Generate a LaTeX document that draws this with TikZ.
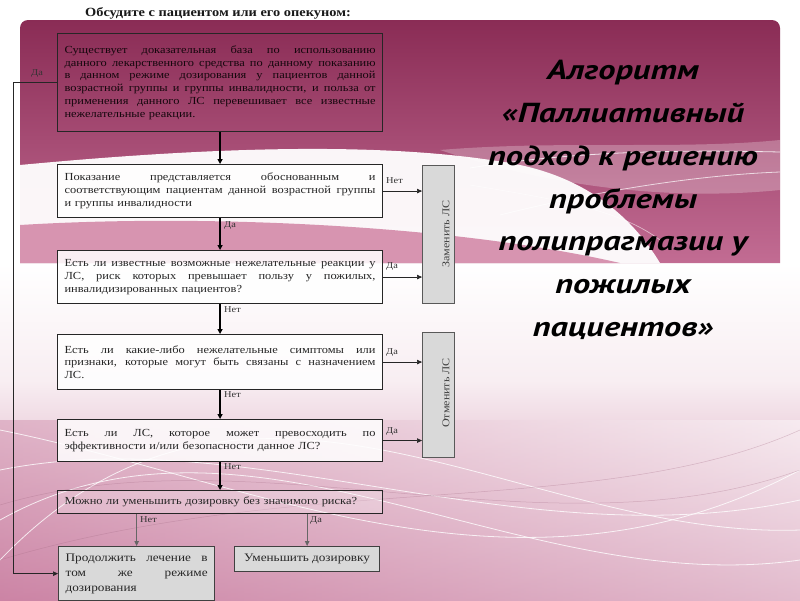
\documentclass[tikz,border=0pt]{standalone}
\usepackage{fontspec}
\setmainfont{Liberation Serif}
\newfontfamily\bxfont[FakeStretch=1.15]{Liberation Serif}
\newfontfamily\ttlfont[FakeStretch=1.25]{PT Sans}
\usetikzlibrary{arrows.meta,calc}
\definecolor{panelTop}{HTML}{8A2C55}
\definecolor{panelBot}{HTML}{C26C93}
\definecolor{bandPink}{HTML}{D794B0}
\definecolor{bgLight}{HTML}{F8EEF2}
\definecolor{bgPink}{HTML}{CC84A5}
\definecolor{boxGray}{HTML}{D9D9D9}
\definecolor{txt}{HTML}{262626}
\newcommand{\jline}[2][311pt]{\makebox[#1][s]{\spaceskip=0pt\xspaceskip=0pt #2}}
\tikzset{
  fbox/.style={draw=black!85, line width=1.1pt, fill=white, fill opacity=0.85, text opacity=1,
    anchor=north west, inner xsep=6pt, inner ysep=2pt, text width=311pt, align=left,
    minimum width=325pt, font=\bxfont\fontsize{10.8}{12.8}\selectfont, text=txt},
  gbox/.style={draw=black!75, line width=1.3pt, fill=boxGray, anchor=north west,
    inner xsep=6pt, align=left, font=\bxfont\fontsize{11.5}{15}\selectfont, text=txt},
  sbox/.style={draw=black!65, line width=0.9pt, fill=boxGray, anchor=north west,
    minimum width=32pt},
  stxt/.style={rotate=90, font=\bxfont\fontsize{10.5}{12}\selectfont, text=black!75, inner sep=0pt},
  lbl/.style={font=\bxfont\fontsize{9}{10}\selectfont, text=black!80, inner sep=1pt, anchor=west},
  mainar/.style={draw=black, line width=1.4pt, -{Triangle[length=5pt,width=5pt]}},
  sidear/.style={draw=black!85, line width=0.7pt, -{Triangle[length=5pt,width=4.5pt]}},
  thinar/.style={draw=black!60, line width=0.8pt, -{Triangle[length=5pt,width=4.5pt]}},
}
\begin{document}
\begin{tikzpicture}[x=1pt,y=-1pt]
\useasboundingbox (0,0) rectangle (800,600);
% ---------- background ----------
\fill[white] (0,0) rectangle (800,600);
\shade[top color=white, bottom color=bgLight] (0,263) rectangle (800,380);
\shade[top color=bgLight, bottom color=bgPink] (0,380) rectangle (800,600);
\shade[left color=bgPink, right color=white, opacity=0.45] (0,420) rectangle (800,600);
\foreach \a/\b/\c/\d in {470/420/560/500, 520/380/600/560, 430/480/620/470, 560/300/540/530}{
  \draw[white, line width=0.8pt, opacity=0.8] (0,\a) .. controls (250,\b) and (520,\c) .. (800,\d);
}
\draw[bgPink!80!black, line width=0.5pt, opacity=0.35] (0,505) .. controls (250,430) and (550,560) .. (800,470);
\draw[bgPink!80!black, line width=0.5pt, opacity=0.35] (0,560) .. controls (300,470) and (600,520) .. (800,430);
% panel
\shade[top color=panelTop, bottom color=panelBot] (20,263) [rounded corners=8pt] -- (20,20) -- (780,20) [sharp corners] -- (780,263) -- cycle;
\fill[white, opacity=0.95] (20,165) .. controls (180,150) and (380,138) .. (520,165) .. controls (600,182) and (640,230) .. (660,263) -- (20,263) -- cycle;
\fill[bandPink] (20,225) .. controls (200,214) and (450,224) .. (620,263) -- (20,263) -- cycle;
\fill[white, opacity=0.25] (440,150) .. controls (560,140) and (680,150) .. (780,140) -- (780,190) .. controls (680,200) and (560,190) .. (440,150) -- cycle;
\draw[white, line width=0.8pt, opacity=0.8] (470,168) .. controls (580,150) and (690,150) .. (780,152);
\draw[white, line width=0.8pt, opacity=0.7] (500,215) .. controls (600,190) and (700,175) .. (780,172);
\draw[white, line width=0.6pt, opacity=0.6] (470,185) .. controls (560,200) and (620,210) .. (660,240);
% ---------- texts ----------
\node[font=\bxfont\bfseries\fontsize{12.5}{14}\selectfont, text=black!90] (top) at (218,13) {Обсудите с пациентом или его опекуном:};
\node[font=\ttlfont\bfseries\itshape\fontsize{27.5}{42.8}\selectfont, align=center, text=black] (title) at (623,200)
  {Алгоритм\\«Паллиативный\\подход к решению\\проблемы\\полипрагмазии у\\пожилых\\пациентов»};
% ---------- boxes ----------
\node[fbox, fill=none, minimum height=98pt, text=black!85!panelTop] (b1) at (57,33)
  {\jline{Существует доказательная база по использованию}\\
   \jline{данного лекарственного средства по данному показанию}\\
   \jline{в данном режиме дозирования у пациентов данной}\\
   \jline{возрастной группы и группы инвалидности, и польза от}\\
   \jline{применения данного ЛС перевешивает все известные}\\
   нежелательные реакции.};
\node[fbox, minimum height=53pt] (b2) at (57,164)
  {\jline{Показание представляется обоснованным и}\\
   \jline{соответствующим пациентам данной возрастной группы}\\
   и группы инвалидности};
\node[fbox, minimum height=53pt] (b3) at (57,250)
  {\jline{Есть ли известные возможные нежелательные реакции у}\\
   \jline{ЛС, риск которых превышает пользу у пожилых,}\\
   инвалидизированных пациентов?};
\node[fbox, minimum height=55pt] (b4) at (57,334)
  {\jline{Есть ли какие-либо нежелательные симптомы или}\\
   \jline{признаки, которые могут быть связаны с назначением}\\
   ЛС.};
\node[fbox, minimum height=42pt] (b5) at (57,419)
  {\jline{Есть ли ЛС, которое может превосходить по}\\
   эффективности и/или безопасности данное ЛС?};
\node[fbox, fill opacity=0.25, minimum height=23pt] (b6) at (57,490)
  {Можно ли уменьшить дозировку без значимого риска?};
\node[gbox, minimum width=156pt, minimum height=54pt, text width=142pt] (b7) at (58,546)
  {\jline[142pt]{Продолжить лечение в}\\ \jline[142pt]{том же режиме}\\ дозирования};
\node[gbox, minimum width=145pt, minimum height=25pt] (b8) at (234,546) {Уменьшить дозировку};
\node[sbox, minimum height=138pt] (s1) at (422,165) {};
\node[sbox, minimum height=125pt] (s2) at (422,332) {};
\node[stxt] (s1t) at (446,234) {Заменить ЛС};
\node[stxt] (s2t) at (446,393) {Отменить ЛС};
% ---------- connectors ----------
\draw[mainar] (b1.south) -- (b2.north);
\draw[mainar] (b2.south) -- (b3.north);
\draw[mainar] (b3.south) -- (b4.north);
\draw[mainar] (b4.south) -- (b5.north);
\draw[mainar] (b5.south) -- (b6.north);
\draw[sidear] (b2.east) -- (b2.east -| s1.west);
\draw[sidear] (b3.east) -- (b3.east -| s1.west);
\draw[sidear] (b4.east) -- (b4.east -| s2.west);
\draw[sidear] (b5.east) -- (b5.east -| s2.west);
\draw[thinar] (b7.north |- b6.south) -- (b7.north);
\draw[thinar] (b8.north |- b6.south) -- (b8.north);
\draw[sidear] (b1.west) -- ++(-44,0) |- (b7.west);
% ---------- labels ----------
\node[lbl] (l1) at (30,74) {Да};
\node[lbl] (l2) at (385,181) {Нет};
\node[lbl] (l3) at (223,226) {Да};
\node[lbl] (l4) at (385,267) {Да};
\node[lbl] (l5) at (223,310) {Нет};
\node[lbl] (l6) at (385,353) {Да};
\node[lbl] (l7) at (223,395) {Нет};
\node[lbl] (l8) at (385,432) {Да};
\node[lbl] (l9) at (223,467) {Нет};
\node[lbl] (l10) at (139,520) {Нет};
\node[lbl] (l11) at (309,521) {Да};
\end{tikzpicture}
\end{document}
